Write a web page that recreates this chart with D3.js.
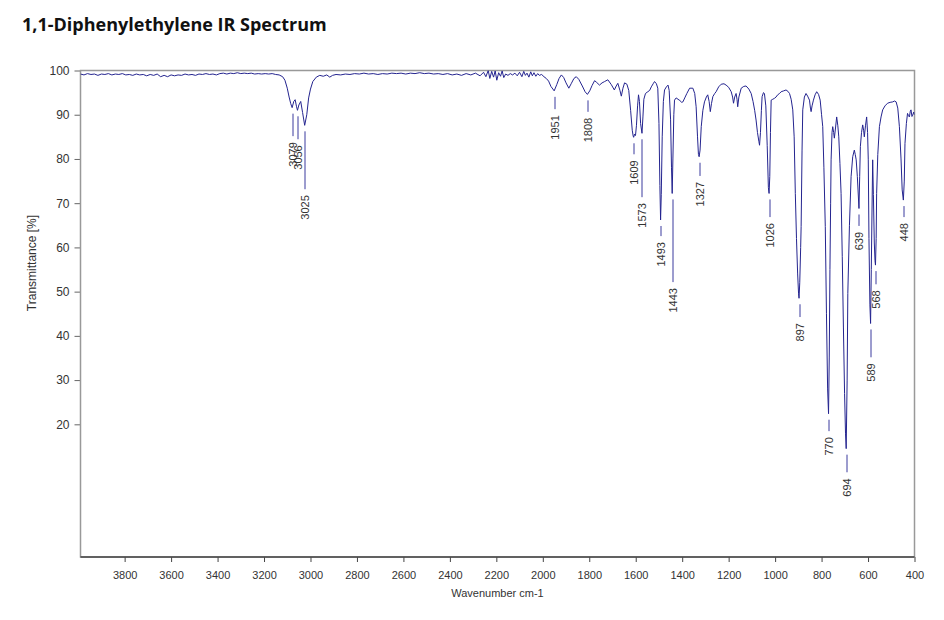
<!DOCTYPE html>
<html>
<head>
<meta charset="utf-8">
<script src="https://cdn.jsdelivr.net/npm/d3@7"></script>
<style>
body { margin: 0; background: #fff; }
</style>
</head>
<body>
<div id="chart"></div>
<script>
// IR spectrum: [wavenumber cm-1, transmittance %]
const spectrum = [
    [3990, 99.2], [3975, 99.0], [3960, 99.3], [3945, 99.1], [3930, 99.2], [3915, 98.9], [3900, 99.2],
    [3885, 99.1], [3870, 99.3], [3855, 99.0], [3840, 99.2], [3825, 99.1], [3810, 99.3], [3795, 99.0],
    [3780, 99.1], [3765, 98.9], [3750, 99.2], [3735, 99.0], [3720, 99.1], [3705, 98.8], [3690, 99.1],
    [3675, 98.9], [3660, 99.2], [3645, 98.6], [3630, 98.9], [3615, 98.6], [3600, 99.0], [3585, 98.8],
    [3570, 99.0], [3555, 98.9], [3540, 99.2], [3525, 99.0], [3510, 99.1], [3495, 98.9], [3480, 99.2],
    [3465, 99.1], [3450, 99.3], [3435, 99.1], [3420, 99.2], [3405, 99.0], [3390, 99.3], [3375, 99.4],
    [3360, 99.2], [3345, 99.4], [3330, 99.3], [3315, 99.5], [3300, 99.3], [3285, 99.4], [3270, 99.3],
    [3255, 99.4], [3240, 99.2], [3225, 99.3], [3210, 99.2], [3195, 99.3], [3180, 99.2], [3165, 99.3],
    [3150, 99.1], [3135, 99.0], [3120, 98.6], [3110, 97.8], [3100, 96.0], [3092, 94.0], [3085, 92.5],
    [3079, 91.6], [3072, 93.0], [3066, 93.4], [3060, 91.8], [3056, 91.0], [3050, 92.2], [3042, 93.0],
    [3034, 90.5], [3025, 87.6], [3016, 90.0], [3008, 93.8], [3000, 95.8], [2990, 97.5], [2975, 98.5],
    [2960, 98.9], [2945, 98.7], [2930, 99.0], [2917, 98.5], [2905, 98.9], [2890, 99.1], [2870, 99.0],
    [2850, 99.2], [2830, 99.1], [2810, 99.3], [2790, 99.2], [2770, 99.4], [2750, 99.2], [2730, 99.3],
    [2710, 99.1], [2690, 99.3], [2670, 99.2], [2650, 99.4], [2630, 99.3], [2610, 99.4], [2590, 99.2],
    [2570, 99.4], [2550, 99.3], [2530, 99.5], [2510, 99.3], [2490, 99.4], [2470, 99.2], [2450, 99.3],
    [2430, 99.1], [2410, 99.3], [2390, 99.0], [2370, 99.2], [2350, 98.9], [2330, 99.3], [2310, 99.0],
    [2290, 99.4], [2270, 98.8], [2255, 99.6], [2245, 98.6], [2235, 100.0], [2228, 98.2], [2220, 99.8],
    [2212, 98.5], [2205, 99.9], [2198, 97.8], [2190, 99.5], [2182, 98.7], [2175, 99.9], [2168, 98.4],
    [2160, 99.2], [2150, 98.9], [2140, 99.3], [2130, 99.0], [2120, 99.4], [2110, 98.8], [2100, 99.6],
    [2090, 98.6], [2082, 99.8], [2075, 98.9], [2068, 99.4], [2060, 98.5], [2052, 99.7], [2045, 98.8],
    [2038, 99.5], [2030, 98.7], [2022, 99.3], [2015, 98.9], [2005, 99.1], [1995, 98.6], [1985, 98.2],
    [1975, 97.6], [1965, 96.4], [1951, 95.4], [1940, 96.8], [1930, 98.2], [1920, 99.0], [1910, 98.4],
    [1900, 97.2], [1888, 96.0], [1878, 97.0], [1866, 98.2], [1856, 98.6], [1845, 98.0], [1830, 96.5],
    [1818, 95.2], [1808, 94.6], [1798, 95.4], [1788, 96.6], [1777, 97.7], [1768, 97.3], [1756, 96.7],
    [1745, 97.2], [1734, 97.5], [1720, 97.9], [1705, 96.8], [1692, 95.6], [1684, 96.5], [1677, 97.1],
    [1668, 95.5], [1662, 94.2], [1655, 96.0], [1648, 97.2], [1638, 96.9], [1630, 95.5], [1622, 91.0],
    [1615, 86.5], [1611, 85.2], [1609, 84.9], [1605, 85.6], [1601, 85.3], [1597, 87.5], [1592, 92.0],
    [1588, 94.5], [1584, 93.0], [1579, 88.0], [1573, 85.8], [1569, 89.5], [1565, 93.5], [1558, 94.8],
    [1548, 95.2], [1540, 95.5], [1533, 96.3], [1525, 97.0], [1519, 97.5], [1511, 97.0], [1505, 96.0],
    [1500, 88.0], [1496, 74.0], [1493, 66.2], [1490, 72.0], [1486, 85.0], [1481, 93.0], [1476, 95.6],
    [1468, 96.3], [1461, 96.7], [1456, 95.5], [1450, 89.0], [1446, 78.0], [1443, 72.2], [1440, 80.0],
    [1436, 90.0], [1433, 93.3], [1426, 93.8], [1418, 93.5], [1410, 93.2], [1402, 92.8], [1397, 92.9],
    [1389, 93.8], [1380, 94.8], [1368, 96.0], [1354, 96.0], [1346, 94.8], [1340, 91.8], [1334, 85.0],
    [1330, 81.0], [1327, 80.5], [1323, 82.0], [1318, 87.3], [1311, 91.0], [1304, 92.9], [1296, 94.0],
    [1290, 94.5], [1284, 93.0], [1279, 90.7], [1274, 92.5], [1268, 94.1], [1260, 94.8], [1254, 95.2],
    [1243, 96.3], [1232, 96.9], [1220, 97.0], [1211, 96.7], [1200, 96.2], [1189, 95.2], [1183, 94.0],
    [1179, 92.6], [1174, 94.0], [1168, 94.8], [1164, 93.5], [1161, 91.8], [1156, 94.0], [1146, 96.0],
    [1135, 96.4], [1125, 96.5], [1113, 95.8], [1103, 94.8], [1095, 93.0], [1088, 91.0], [1082, 88.8],
    [1076, 86.0], [1070, 84.0], [1067, 83.1], [1063, 86.0], [1059, 91.0], [1056, 94.1], [1050, 95.0],
    [1046, 94.8], [1040, 92.0], [1034, 83.0], [1029, 73.5], [1026, 72.2], [1023, 76.0], [1020, 86.0],
    [1017, 93.3], [1010, 93.5], [1003, 93.7], [996, 94.0], [989, 94.5], [981, 94.8], [974, 95.2],
    [963, 95.4], [953, 95.6], [945, 95.3], [938, 94.8], [931, 93.5], [924, 91.1], [918, 85.0],
    [913, 72.2], [908, 62.0], [903, 54.0], [899, 49.5], [897, 48.5], [894, 52.0], [890, 60.0],
    [888, 64.7], [884, 82.0], [881, 91.1], [874, 94.0], [867, 94.8], [860, 94.2], [852, 93.3],
    [848, 91.5], [845, 90.7], [841, 92.0], [835, 93.3], [828, 94.5], [821, 95.2], [813, 94.6],
    [806, 93.3], [800, 90.0], [795, 87.3], [790, 78.0], [784, 64.7], [779, 45.0], [774, 28.0],
    [770, 22.4], [767, 35.0], [764, 55.0], [761, 70.0], [759, 79.8], [755, 86.0], [752, 87.3],
    [748, 86.0], [745, 84.7], [740, 87.0], [735, 89.5], [730, 87.5], [726, 85.0], [721, 79.0],
    [716, 72.2], [711, 58.0], [706, 42.0], [701, 27.0], [697, 18.0], [694, 14.5], [690, 30.0],
    [687, 49.6], [680, 65.0], [673, 76.0], [666, 80.5], [659, 82.0], [655, 81.0], [651, 79.8],
    [646, 76.0], [639, 68.8], [636, 76.0], [633, 82.8], [628, 86.0], [623, 87.7], [619, 86.5],
    [616, 85.0], [611, 87.5], [606, 89.5], [602, 86.0], [599, 79.8], [596, 62.0], [592, 47.0],
    [589, 42.8], [586, 55.0], [583, 68.0], [580, 79.8], [577, 72.0], [573, 61.0], [570, 57.0],
    [568, 56.0], [565, 62.0], [563, 72.2], [558, 81.0], [551, 87.3], [544, 89.5], [537, 91.1],
    [527, 92.0], [516, 92.6], [505, 92.8], [494, 92.9], [486, 93.1], [479, 92.9], [472, 91.5],
    [465, 87.3], [458, 80.0], [453, 73.0], [448, 70.7], [444, 75.0], [441, 83.5], [435, 88.0],
    [430, 90.3], [426, 89.8], [422, 89.5], [418, 90.8], [415, 91.1], [411, 89.6], [408, 89.9],
    [403, 90.6], [400, 90.0]
];

// peak picks: wavenumber, transmittance at the peak, transmittance where the label text starts
const peakWn = [3079, 3056, 3025, 1951, 1808, 1609, 1573, 1493, 1443, 1327, 1026, 897, 770, 694, 639, 589, 568, 448];
const peakT  = [91.6, 91.0, 87.6, 95.4, 94.6, 84.9, 85.8, 66.2, 72.2, 80.5, 72.2, 48.5, 22.4, 14.5, 68.8, 42.8, 56.0, 70.7];
const labelT = [83.8, 83.1, 71.8, 89.9, 89.3, 79.7, 70.0, 61.2, 50.8, 74.8, 65.5, 42.9, 17.1, 7.8, 63.5, 33.8, 50.3, 65.5];

const xTicks = [3800, 3600, 3400, 3200, 3000, 2800, 2600, 2400, 2200, 2000, 1800, 1600, 1400, 1200, 1000, 800, 600, 400];
const yTicks = [20, 30, 40, 50, 60, 70, 80, 90, 100];

const margin = {top: 70.5, right: 29.5, bottom: 63, left: 80.5},
    width = 944 - margin.left - margin.right,
    height = 620 - margin.top - margin.bottom;

const root = d3.select("#chart").append("svg")
    .attr("width", 944)
    .attr("height", 620)
    .style("font-family", "Arial, 'Liberation Sans', sans-serif");

root.append("rect").attr("width", 944).attr("height", 620).attr("fill", "#fff");

root.append("text")
    .attr("x", 22)
    .attr("y", 31)
    .attr("font-family", "'Open Sans', sans-serif")
    .attr("font-weight", "bold")
    .attr("font-size", 18)
    .attr("fill", "#111")
    .text("1,1-Diphenylethylene IR Spectrum");

const svg = root.append("g")
    .attr("transform", `translate(${margin.left},${margin.top})`);

const x = d3.scaleLinear().domain([3990, 400]).range([0, width]);
const y = d3.scaleLinear().domain([-10, 100]).range([height, 0]);

svg.append("clipPath").attr("id", "plot")
    .append("rect").attr("width", width).attr("height", height);

// axes
const xAxis = svg.append("g")
    .attr("transform", `translate(0,${height})`)
    .call(d3.axisBottom(x).tickValues(xTicks).tickSize(5).tickPadding(9).tickFormat(d3.format("d")));
const yAxis = svg.append("g")
    .call(d3.axisLeft(y).tickValues(yTicks).tickSize(6).tickPadding(5));

[xAxis, yAxis].forEach(g => {
    g.select(".domain").remove();
    g.selectAll("text").attr("font-size", 11).attr("fill", "#333").attr("font-family", "Arial, 'Liberation Sans', sans-serif");
});
yAxis.selectAll("text").attr("font-size", 12);
xAxis.selectAll("line").attr("stroke", "#444");
yAxis.selectAll("line").attr("stroke", "#666");

// frame
svg.append("rect")
    .attr("width", width)
    .attr("height", height)
    .attr("fill", "none")
    .attr("stroke", "#999")
    .attr("stroke-width", 1.5);
svg.append("line")
    .attr("x1", 0).attr("x2", width)
    .attr("y1", height).attr("y2", height)
    .attr("stroke", "#111");

// spectrum
const valueline = d3.line()
    .x(d => x(d[0]))
    .y(d => y(d[1]));

svg.append("path")
    .datum(spectrum)
    .attr("clip-path", "url(#plot)")
    .attr("d", valueline)
    .attr("fill", "none")
    .attr("stroke", "#24248f")
    .attr("stroke-width", 1);

// peak labels
const peaks = svg.append("g");
peakWn.forEach((wn, i) => {
    const px = Math.round(x(wn)) + 0.5;
    peaks.append("line")
        .attr("x1", px).attr("x2", px)
        .attr("y1", y(peakT[i]) + 6)
        .attr("y2", y(labelT[i]) - 6)
        .attr("stroke", "#3a3a9e")
        .attr("stroke-width", 1);
    peaks.append("text")
        .attr("transform", `translate(${px},${y(labelT[i])}) rotate(-90)`)
        .attr("text-anchor", "end")
        .attr("dy", "0.35em")
        .attr("font-size", 11)
        .attr("fill", "#333")
        .text(wn);
});

// axis titles
root.append("text")
    .attr("transform", "translate(32,263) rotate(-90)")
    .attr("text-anchor", "middle")
    .attr("dy", "0.35em")
    .attr("font-size", 12)
    .attr("fill", "#333")
    .text("Transmittance [%]");

root.append("text")
    .attr("x", margin.left + width / 2)
    .attr("y", 593)
    .attr("text-anchor", "middle")
    .attr("dy", "0.35em")
    .attr("font-size", 11)
    .attr("fill", "#333")
    .text("Wavenumber cm-1");
</script>
</body>
</html>
